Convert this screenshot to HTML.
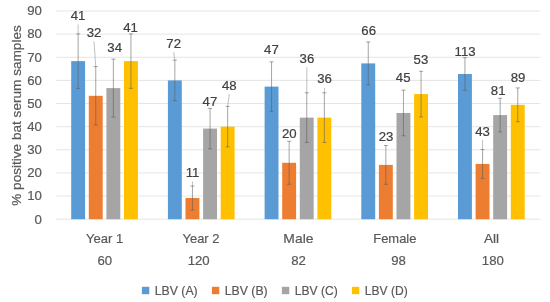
<!DOCTYPE html>
<html><head><meta charset="utf-8"><title>chart</title><style>html,body{margin:0;padding:0;background:#fff}svg{display:block}</style></head><body>
<svg width="550" height="302" viewBox="0 0 550 302" font-family="'Liberation Sans', sans-serif" font-size="13.2">
<rect width="550" height="302" fill="#fff"/>
<g stroke="#DADADA" stroke-width="0.7">
<line x1="56.2" x2="540.4" y1="219.20" y2="219.20"/>
<line x1="56.2" x2="540.4" y1="196.07" y2="196.07"/>
<line x1="56.2" x2="540.4" y1="172.93" y2="172.93"/>
<line x1="56.2" x2="540.4" y1="149.80" y2="149.80"/>
<line x1="56.2" x2="540.4" y1="126.67" y2="126.67"/>
<line x1="56.2" x2="540.4" y1="103.53" y2="103.53"/>
<line x1="56.2" x2="540.4" y1="80.40" y2="80.40"/>
<line x1="56.2" x2="540.4" y1="57.27" y2="57.27"/>
<line x1="56.2" x2="540.4" y1="34.13" y2="34.13"/>
<line x1="56.2" x2="540.4" y1="11.00" y2="11.00"/>
</g>
<g fill="#595959" stroke="#595959" stroke-width="0.2" text-anchor="end">
<text x="41.8" y="223.55">0</text>
<text x="41.8" y="200.42">10</text>
<text x="41.8" y="177.28">20</text>
<text x="41.8" y="154.15">30</text>
<text x="41.8" y="131.02">40</text>
<text x="41.8" y="107.88">50</text>
<text x="41.8" y="84.75">60</text>
<text x="41.8" y="61.62">70</text>
<text x="41.8" y="38.48">80</text>
<text x="41.8" y="15.35">90</text>
</g>
<text transform="translate(20.6,115.5) rotate(-90)" fill="#595959" stroke="#595959" stroke-width="0.2" text-anchor="middle" textLength="180.6" lengthAdjust="spacingAndGlyphs">% positive bat serum samples</text>
<g><rect x="71.20" y="61.12" width="13.9" height="158.08" fill="#5B9BD5"/>
<rect x="88.80" y="95.82" width="13.9" height="123.38" fill="#ED7D31"/>
<rect x="106.40" y="88.11" width="13.9" height="131.09" fill="#A5A5A5"/>
<rect x="124.00" y="61.12" width="13.9" height="158.08" fill="#FFC000"/>
<rect x="167.90" y="80.40" width="13.9" height="138.80" fill="#5B9BD5"/>
<rect x="185.50" y="197.99" width="13.9" height="21.21" fill="#ED7D31"/>
<rect x="203.10" y="128.59" width="13.9" height="90.61" fill="#A5A5A5"/>
<rect x="220.70" y="126.67" width="13.9" height="92.53" fill="#FFC000"/>
<rect x="264.60" y="86.61" width="13.9" height="132.59" fill="#5B9BD5"/>
<rect x="282.20" y="162.78" width="13.9" height="56.42" fill="#ED7D31"/>
<rect x="299.80" y="117.64" width="13.9" height="101.56" fill="#A5A5A5"/>
<rect x="317.40" y="117.64" width="13.9" height="101.56" fill="#FFC000"/>
<rect x="361.30" y="63.40" width="13.9" height="155.80" fill="#5B9BD5"/>
<rect x="378.90" y="164.91" width="13.9" height="54.29" fill="#ED7D31"/>
<rect x="396.50" y="112.98" width="13.9" height="106.22" fill="#A5A5A5"/>
<rect x="414.10" y="94.09" width="13.9" height="125.11" fill="#FFC000"/>
<rect x="458.00" y="73.97" width="13.9" height="145.23" fill="#5B9BD5"/>
<rect x="475.60" y="163.94" width="13.9" height="55.26" fill="#ED7D31"/>
<rect x="493.20" y="115.10" width="13.9" height="104.10" fill="#A5A5A5"/>
<rect x="510.80" y="104.82" width="13.9" height="114.38" fill="#FFC000"/></g>
<g stroke="#8C8C8C" stroke-width="0.55" fill="none"><path d="M78.05 24.45L78.15 33.89"/>
<path d="M94.00 41.35L95.75 66.62"/>
<path d="M173.65 52.25L174.85 60.12"/>
<path d="M192.55 181.45L192.45 186.05"/>
<path d="M229.30 94.25L227.65 106.39"/>
<path d="M306.90 67.25L306.75 92.79"/>
<path d="M324.55 87.85L324.35 92.79"/>
<path d="M482.50 140.05L482.55 149.53"/></g>
<g stroke="#595959" stroke-width="0.55" fill="none"><path d="M78.15 33.89V88.35M76.15 33.89h4M76.15 88.35h4"/>
<path d="M95.75 66.62V125.02M93.75 66.62h4M93.75 125.02h4"/>
<path d="M113.35 59.10V117.12M111.35 59.10h4M111.35 117.12h4"/>
<path d="M130.95 33.89V88.35M128.95 33.89h4M128.95 88.35h4"/>
<path d="M174.85 60.12V100.68M172.85 60.12h4M172.85 100.68h4"/>
<path d="M192.45 186.05V209.94M190.45 186.05h4M190.45 209.94h4"/>
<path d="M210.05 108.39V148.80M208.05 108.39h4M208.05 148.80h4"/>
<path d="M227.65 106.39V146.94M225.65 106.39h4M225.65 146.94h4"/>
<path d="M271.55 61.84V111.37M269.55 61.84h4M269.55 111.37h4"/>
<path d="M289.15 141.27V184.28M287.15 141.27h4M287.15 184.28h4"/>
<path d="M306.75 92.79V142.49M304.75 92.79h4M304.75 142.49h4"/>
<path d="M324.35 92.79V142.49M322.35 92.79h4M322.35 142.49h4"/>
<path d="M368.25 41.93V84.88M366.25 41.93h4M366.25 84.88h4"/>
<path d="M385.85 145.50V184.32M383.85 145.50h4M383.85 184.32h4"/>
<path d="M403.45 90.15V135.80M401.45 90.15h4M401.45 135.80h4"/>
<path d="M421.05 71.27V116.92M419.05 71.27h4M419.05 116.92h4"/>
<path d="M464.95 57.64V90.31M462.95 57.64h4M462.95 90.31h4"/>
<path d="M482.55 149.53V178.35M480.55 149.53h4M480.55 178.35h4"/>
<path d="M500.15 98.29V131.91M498.15 98.29h4M498.15 131.91h4"/>
<path d="M517.75 87.92V121.72M515.75 87.92h4M515.75 121.72h4"/></g>
<g fill="#404040" stroke="#404040" stroke-width="0.2" text-anchor="middle"><text x="78.05" y="19.95">41</text>
<text x="94.00" y="36.85">32</text>
<text x="114.65" y="52.25">34</text>
<text x="130.60" y="31.55">41</text>
<text x="173.65" y="47.75">72</text>
<text x="192.55" y="176.95">11</text>
<text x="209.95" y="105.95">47</text>
<text x="229.30" y="89.75">48</text>
<text x="271.40" y="53.95">47</text>
<text x="289.35" y="137.75">20</text>
<text x="306.90" y="62.75">36</text>
<text x="324.55" y="83.35">36</text>
<text x="368.65" y="35.25">66</text>
<text x="386.00" y="141.05">23</text>
<text x="403.20" y="81.85">45</text>
<text x="420.95" y="64.05">53</text>
<text x="465.05" y="55.55">113</text>
<text x="482.50" y="135.55">43</text>
<text x="498.20" y="95.15">81</text>
<text x="518.00" y="81.95">89</text></g>
<g fill="#595959" stroke="#595959" stroke-width="0.2" text-anchor="middle"><text x="104.55" y="243.2" textLength="37.2" lengthAdjust="spacingAndGlyphs">Year 1</text>
<text x="104.75" y="265.4">60</text>
<text x="201.00" y="243.2" textLength="36.9" lengthAdjust="spacingAndGlyphs">Year 2</text>
<text x="198.70" y="265.4">120</text>
<text x="298.40" y="243.2" textLength="30.1" lengthAdjust="spacingAndGlyphs">Male</text>
<text x="298.60" y="265.4">82</text>
<text x="394.85" y="243.2" textLength="43.2" lengthAdjust="spacingAndGlyphs">Female</text>
<text x="398.60" y="265.4">98</text>
<text x="491.50" y="243.2" textLength="15.1" lengthAdjust="spacingAndGlyphs">All</text>
<text x="492.85" y="265.4">180</text></g>
<g fill="#595959" stroke="#595959" stroke-width="0.2">
<rect x="141.9" y="286.8" width="7.4" height="7.4" fill="#5B9BD5" stroke="none"/>
<text x="154.8" y="294.6" textLength="42.9" lengthAdjust="spacingAndGlyphs">LBV (A)</text>
<rect x="211.9" y="286.8" width="7.4" height="7.4" fill="#ED7D31" stroke="none"/>
<text x="224.8" y="294.6" textLength="42.9" lengthAdjust="spacingAndGlyphs">LBV (B)</text>
<rect x="281.9" y="286.8" width="7.4" height="7.4" fill="#A5A5A5" stroke="none"/>
<text x="294.8" y="294.6" textLength="42.9" lengthAdjust="spacingAndGlyphs">LBV (C)</text>
<rect x="351.9" y="286.8" width="7.4" height="7.4" fill="#FFC000" stroke="none"/>
<text x="364.8" y="294.6" textLength="42.9" lengthAdjust="spacingAndGlyphs">LBV (D)</text>
</g>
</svg>
</body></html>
